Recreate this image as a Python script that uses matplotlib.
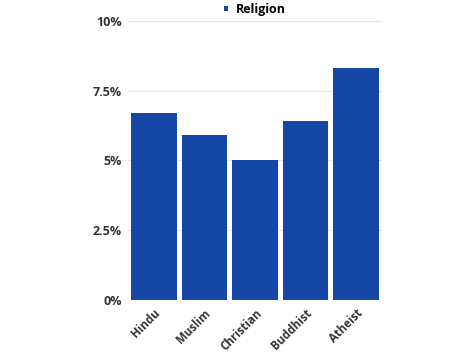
import matplotlib.pyplot as plt
from matplotlib.ticker import FuncFormatter

plt.rcParams['font.family'] = ['Open Sans', 'DejaVu Sans']

categories = ["Hindu", "Muslim", "Christian", "Buddhist", "Atheist"]
values = [6.7, 5.9, 5.0, 6.4, 8.3]
series_name = "Religion"
bar_color = "#1447a6"

fig = plt.figure(figsize=(4.74, 3.55), dpi=100)
ax = fig.add_axes([0.271, 0.155, 0.534, 0.786])

ax.bar(range(len(categories)), values, width=0.9, color=bar_color, label=series_name, zorder=2)

ax.set_xlim(-0.5, len(categories) - 0.5)
ax.set_ylim(0, 10)
ax.set_yticks([0, 2.5, 5, 7.5, 10])
ax.yaxis.set_major_formatter(FuncFormatter(lambda v, p: f"{v:g}%"))
ax.set_xticks(range(len(categories)))
ax.set_xticklabels(categories, rotation=45, ha='right', rotation_mode='anchor')

ax.grid(axis='y', color='#e6e6e6', linewidth=0.8, zorder=0)
for s in ax.spines.values():
    s.set_visible(False)
ax.tick_params(axis='y', length=0, labelsize=9, labelcolor='#333333', pad=5)
ax.tick_params(axis='x', length=0, labelsize=8.3, labelcolor='#333333', pad=5)
for lbl in ax.get_xticklabels() + ax.get_yticklabels():
    lbl.set_fontweight('bold')

ax.legend(loc='lower center', bbox_to_anchor=(0.5, 1.0), frameon=False,
          handlelength=0.3, handleheight=0.3, handletextpad=0.6, borderaxespad=0,
          prop={'weight': 'bold', 'size': 9})

fig.savefig("out.png", dpi=100)
